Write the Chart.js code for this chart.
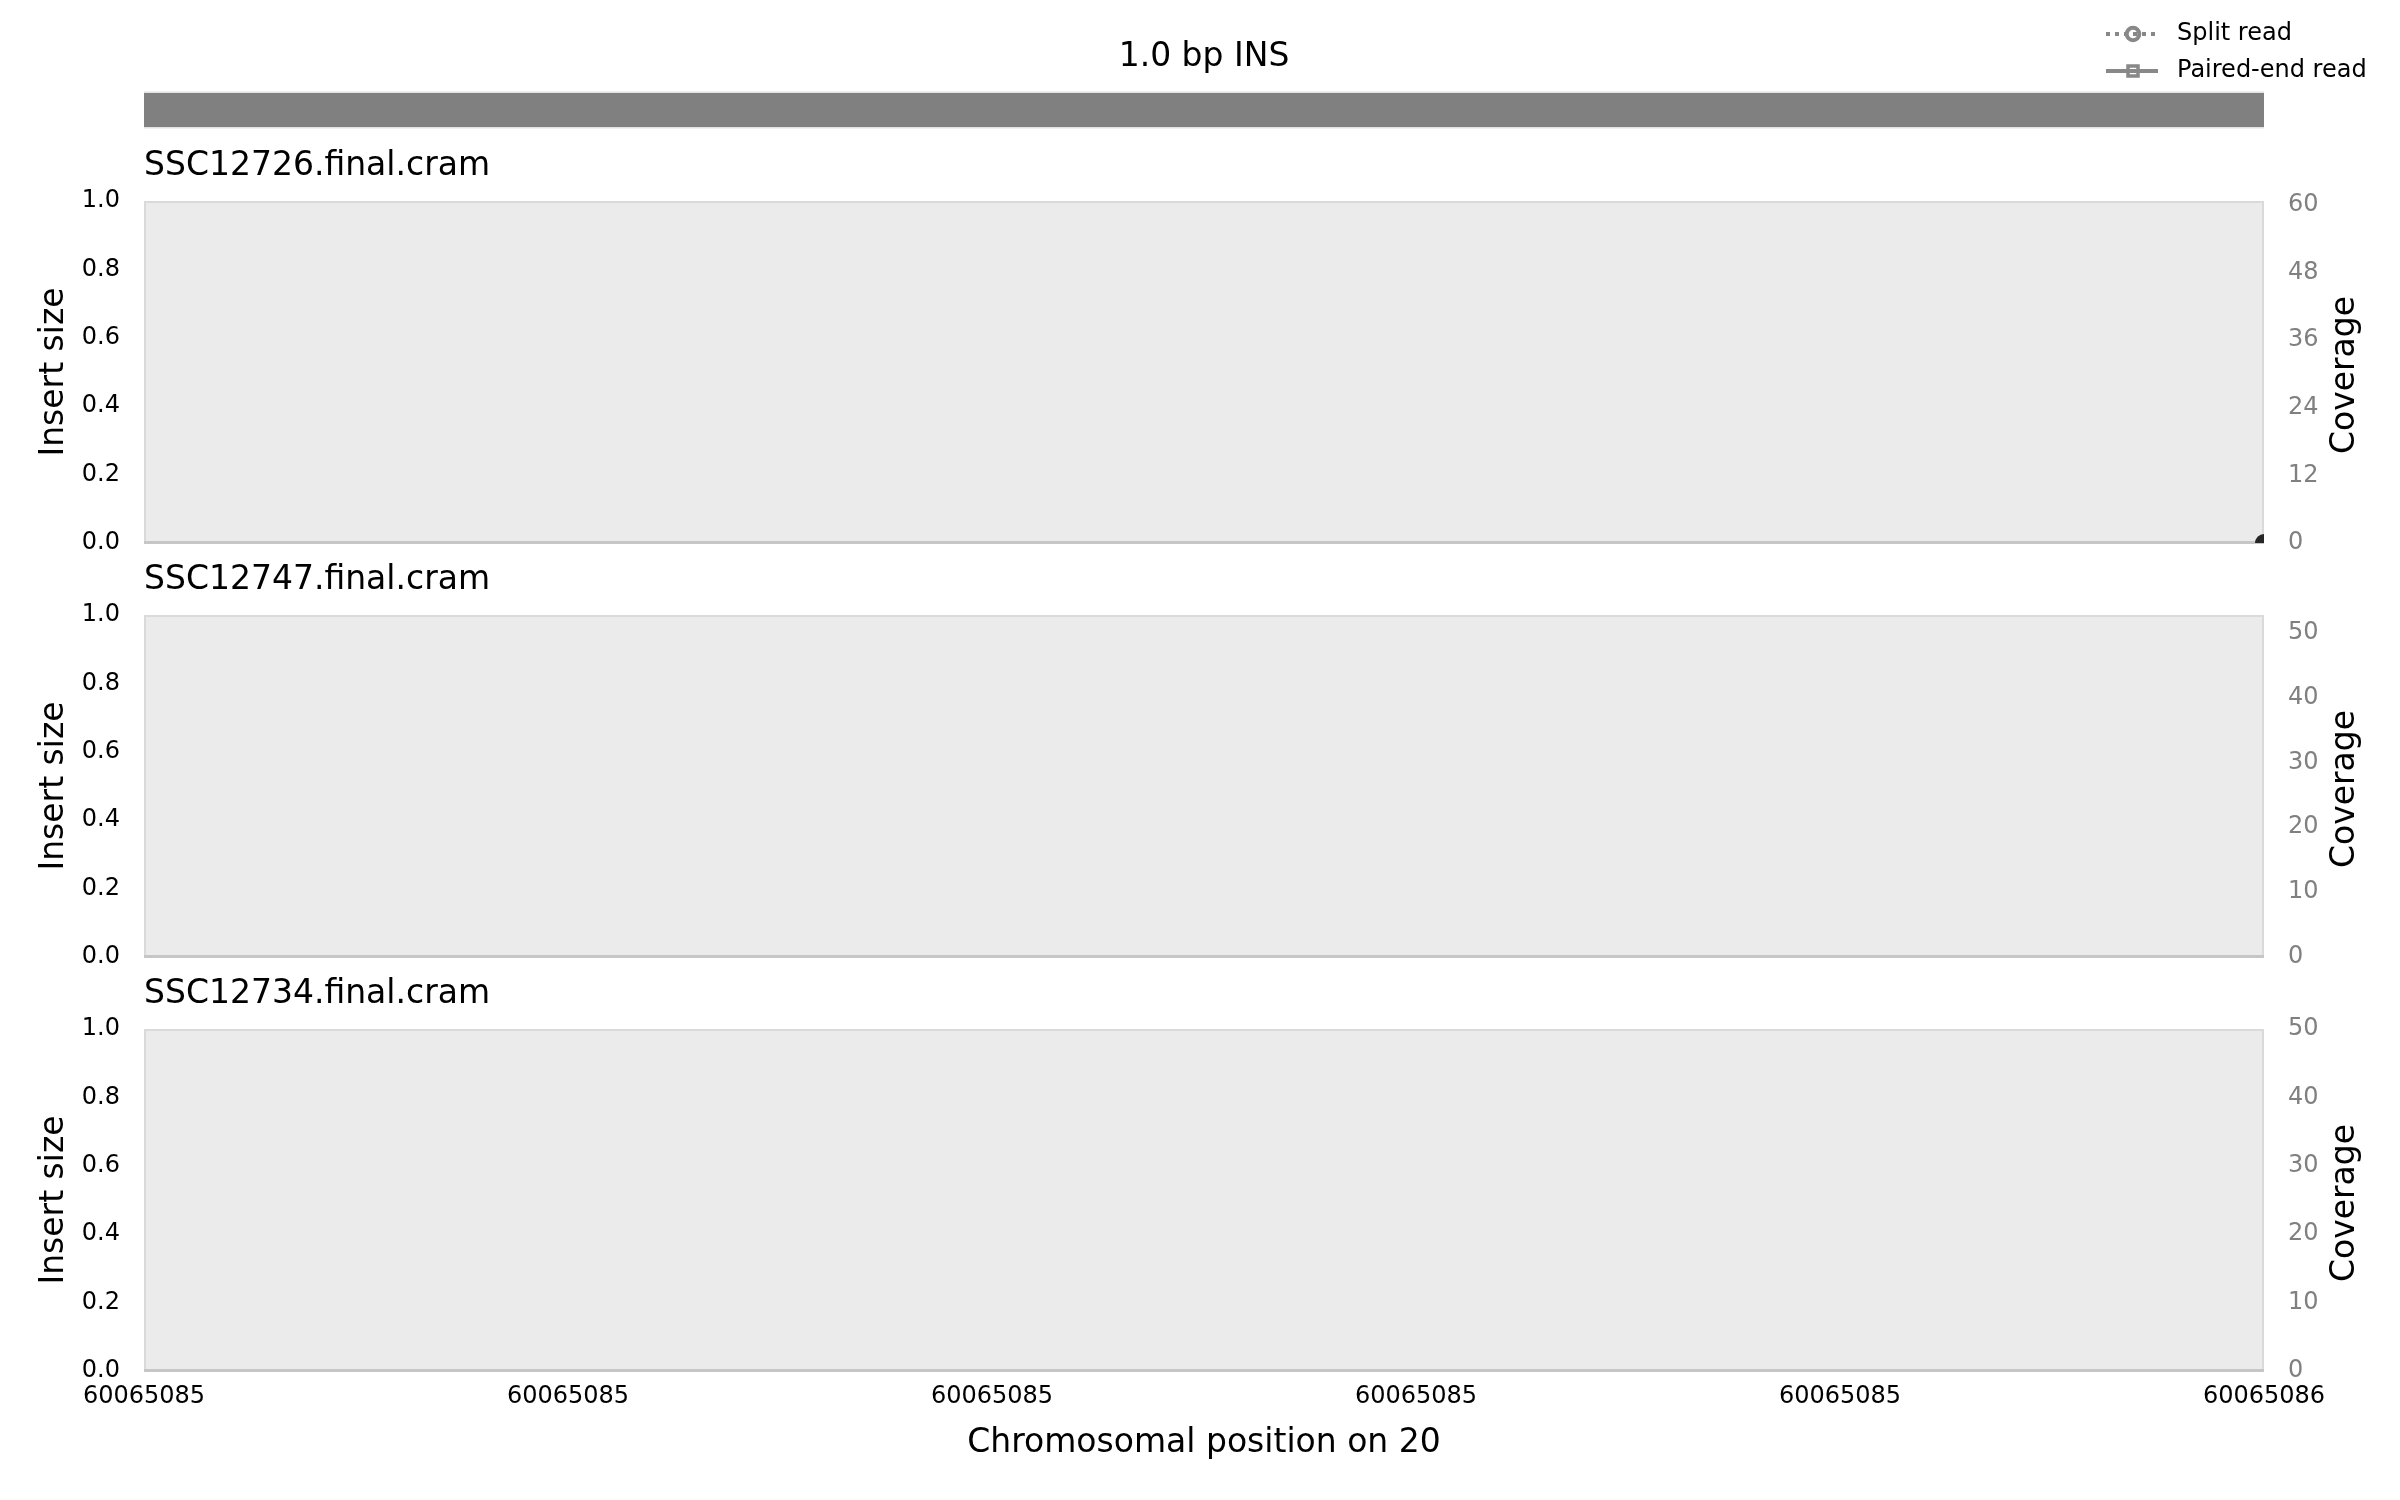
<!DOCTYPE html>
<html>
<head>
<meta charset="utf-8">
<script src="https://cdn.jsdelivr.net/npm/chart.js@4.4.1/dist/chart.umd.min.js"></script>
<style>
html,body{margin:0;padding:0;background:#fff;width:2400px;height:1500px;overflow:hidden;}
canvas{position:absolute;left:0;}
</style>
</head>
<body>
<canvas id="head" width="2400" height="140" style="top:0px"></canvas>
<canvas id="p0" width="2400" height="454"></canvas>
<canvas id="p1" width="2400" height="454"></canvas>
<canvas id="p2" width="2400" height="522"></canvas>
<script>
// ---- data ----
const svTitle = '1.0 bp INS';
const svStart = 60065085;
const svEnd = 60065086;
const samples = ['SSC12726.final.cram', 'SSC12747.final.cram', 'SSC12734.final.cram'];
const insertTicks = [0, 0.2, 0.4, 0.6, 0.8, 1.0];
const coverageTicks = [[0, 12, 24, 36, 48, 60], [0, 10, 20, 30, 40, 50], [0, 10, 20, 30, 40, 50]];
const coverageMax = [60.7, 52.7, 50];
const xTicks = [60065085, 60065085.2, 60065085.4, 60065085.6, 60065085.8, 60065086];
const xTickLabels = ['60065085', '60065085', '60065085', '60065085', '60065085', '60065086'];
const coveragePosX = [[60065086], [], []];
const coverageVal = [[0], [], []];
const legendLabels = ['Split read', 'Paired-end read'];
const xTitle = 'Chromosomal position on 20';
const yLeftTitle = 'Insert size';
const yRightTitle = 'Coverage';

// ---- layout / style ----
const FONT = 'DejaVu Sans';
const PLOT_LEFT = 144, PLOT_RIGHT = 2264;
const panelTops = [201, 615, 1029];
const PH = 342, PAD_TOP = 80, PAD_BOTTOM = 32, XAXIS_H = 100;
const GREY = '#888888';

const headLegend = {
  id: 'headLegend',
  afterDraw(chart) {
    const ctx = chart.ctx;
    ctx.save();
    const x0 = 2106, x1 = 2158, xm = 2133, ys = [34, 71];
    ctx.strokeStyle = GREY;
    ctx.lineWidth = 4;
    // split read: dotted line + hollow circle
    ctx.setLineDash([4, 5]);
    ctx.beginPath(); ctx.moveTo(x0, ys[0]); ctx.lineTo(x1, ys[0]); ctx.stroke();
    ctx.setLineDash([]);
    ctx.beginPath(); ctx.arc(xm, ys[0], 6.3, 0, Math.PI * 2); ctx.stroke();
    // paired-end: solid line + hollow square
    ctx.beginPath(); ctx.moveTo(x0, ys[1]); ctx.lineTo(x1, ys[1]); ctx.stroke();
    ctx.lineWidth = 3.5;
    ctx.strokeRect(xm - 5, ys[1] - 5, 10, 10);
    ctx.fillStyle = '#000';
    ctx.font = '24px "' + FONT + '"';
    ctx.textBaseline = 'middle';
    ctx.textAlign = 'left';
    ctx.fillText(legendLabels[0], 2177, ys[0]);
    ctx.fillText(legendLabels[1], 2177, ys[1]);
    // light edges of the SV track
    const a = chart.chartArea;
    ctx.strokeStyle = '#e2e2e2'; ctx.lineWidth = 1.5;
    ctx.beginPath();
    ctx.moveTo(a.left, a.top - 0.75); ctx.lineTo(a.right, a.top - 0.75);
    ctx.moveTo(a.left, a.bottom + 0.75); ctx.lineTo(a.right, a.bottom + 0.75);
    ctx.stroke();
    ctx.restore();
  }
};

new Chart(document.getElementById('head'), {
  type: 'bar',
  data: {
    labels: [svTitle],
    datasets: [{
      label: svTitle,
      data: [[svStart, svEnd]],
      backgroundColor: '#808080',
      barPercentage: 1,
      categoryPercentage: 1,
      borderWidth: 0
    }]
  },
  options: {
    indexAxis: 'y',
    responsive: false,
    animation: false,
    devicePixelRatio: 1,
    events: [],
    layout: { padding: { left: PLOT_LEFT, right: 2400 - PLOT_RIGHT, top: 0, bottom: 13 } },
    scales: {
      x: { type: 'linear', min: svStart, max: svEnd, display: false },
      y: { display: false }
    },
    plugins: {
      legend: { display: false },
      tooltip: { enabled: false },
      title: {
        display: true, text: svTitle, color: '#000',
        font: { family: FONT, size: 33, weight: 'normal' },
        padding: { top: 37.5, bottom: 15.9 }
      }
    }
  },
  plugins: [headLegend]
});

const panelFrame = {
  id: 'panelFrame',
  beforeDraw(chart, args, opts) {
    const ctx = chart.ctx, a = chart.chartArea;
    ctx.save();
    ctx.fillStyle = '#ebebeb';
    ctx.fillRect(a.left, a.top, a.right - a.left, a.bottom - a.top);
    ctx.strokeStyle = '#dadada'; ctx.lineWidth = 2;
    ctx.beginPath();
    ctx.moveTo(a.left + 1, a.bottom); ctx.lineTo(a.left + 1, a.top + 1);
    ctx.lineTo(a.right - 1, a.top + 1); ctx.lineTo(a.right - 1, a.bottom);
    ctx.stroke();
    ctx.strokeStyle = '#c6c6c6'; ctx.lineWidth = 3;
    ctx.beginPath(); ctx.moveTo(a.left, a.bottom - 0.5); ctx.lineTo(a.right, a.bottom - 0.5); ctx.stroke();
    ctx.fillStyle = '#000';
    ctx.font = '33px "' + FONT + '"';
    ctx.textBaseline = 'alphabetic'; ctx.textAlign = 'left';
    ctx.fillText(opts.title, a.left, a.top - 26);
    // right axis title, reading bottom-to-top like the left one
    ctx.translate(2345, (a.top + a.bottom) / 2 + 3);
    ctx.rotate(-Math.PI / 2);
    ctx.textAlign = 'center'; ctx.textBaseline = 'middle';
    ctx.fillText(opts.rightTitle, 0, 0);
    ctx.restore();
  }
};

function makePanel(i) {
  const isLast = i === samples.length - 1;
  const canvas = document.getElementById('p' + i);
  canvas.style.top = (panelTops[i] - PAD_TOP) + 'px';
  canvas.height = PAD_TOP + PH + (isLast ? XAXIS_H : PAD_BOTTOM);
  new Chart(canvas, {
    type: 'scatter',
    data: {
      datasets: [
        { label: legendLabels[0], data: [], yAxisID: 'y' },
        { label: legendLabels[1], data: [], yAxisID: 'y' },
        {
          label: yRightTitle,
          data: coveragePosX[i].map((x, k) => ({ x: x, y: coverageVal[i][k] })),
          yAxisID: 'yCov',
          pointRadius: 9,
          pointHoverRadius: 9,
          backgroundColor: '#262626',
          borderWidth: 0,
          clip: 0
        }
      ]
    },
    options: {
      responsive: false,
      animation: false,
      devicePixelRatio: 1,
      events: [],
      layout: { padding: { top: PAD_TOP, bottom: isLast ? 0 : PAD_BOTTOM, left: 0, right: 0 } },
      plugins: {
        legend: { display: false },
        tooltip: { enabled: false },
        panelFrame: { title: samples[i], rightTitle: yRightTitle }
      },
      scales: {
        x: {
          type: 'linear', min: svStart, max: svEnd, display: isLast,
          grid: { display: false, drawTicks: false }, border: { display: false },
          afterBuildTicks: s => { s.ticks = xTicks.map(v => ({ value: v })); },
          afterFit: s => { s.height = isLast ? XAXIS_H : 0; },
          ticks: {
            display: isLast,
            padding: isLast ? 11 : 0, color: '#000', maxRotation: 0, autoSkip: false,
            font: { family: FONT, size: 24 },
            callback: (v, idx) => xTickLabels[idx]
          },
          title: {
            display: isLast, text: xTitle, color: '#000',
            font: { family: FONT, size: 33 }, padding: { top: 0, bottom: 8 }
          }
        },
        y: {
          type: 'linear', position: 'left', min: 0, max: 1,
          grid: { display: false }, border: { display: false },
          afterBuildTicks: s => { s.ticks = insertTicks.map(v => ({ value: v })); },
          afterFit: s => { s.width = PLOT_LEFT; },
          ticks: {
            padding: 16, color: '#000', font: { family: FONT, size: 24 },
            callback: v => Number(v).toFixed(1)
          },
          title: {
            display: true, text: yLeftTitle, color: '#000',
            font: { family: FONT, size: 33 }, padding: { top: 35, bottom: 0 }
          }
        },
        yCov: {
          type: 'linear', position: 'right', min: 0, max: coverageMax[i],
          grid: { display: false }, border: { display: false },
          afterBuildTicks: s => { s.ticks = coverageTicks[i].map(v => ({ value: v })); },
          afterFit: s => { s.width = 2400 - PLOT_RIGHT; },
          ticks: {
            padding: 16, color: '#808080', font: { family: FONT, size: 24 },
            callback: v => String(v)
          },
          title: { display: false }
        }
      }
    },
    plugins: [panelFrame]
  });
}

samples.forEach((s, i) => makePanel(i));
</script>
</body>
</html>
